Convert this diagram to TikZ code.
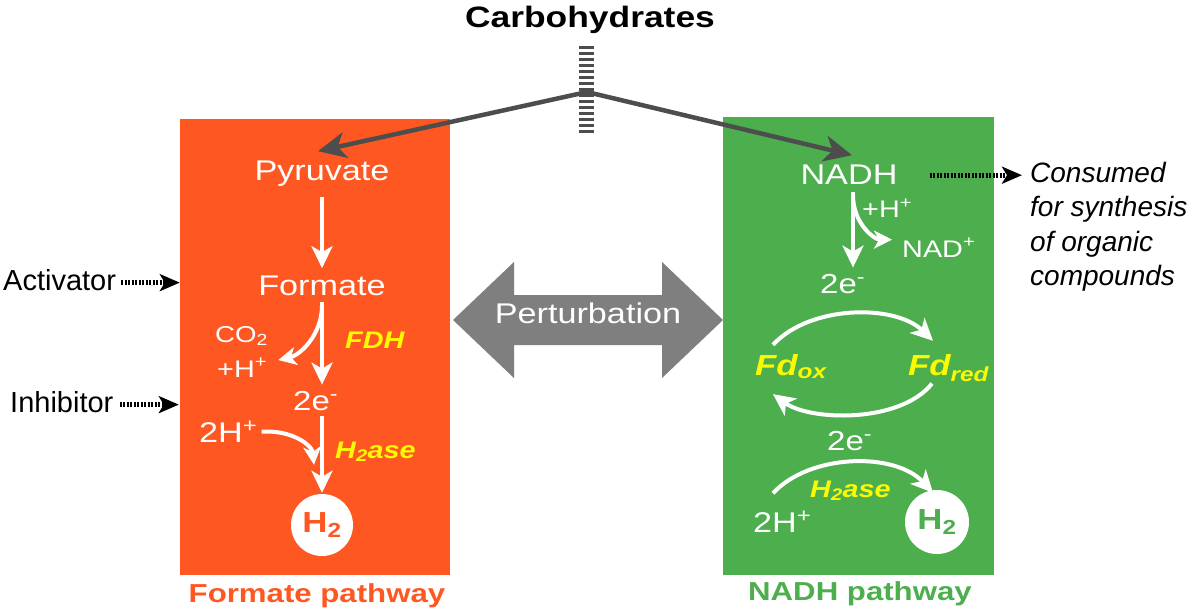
\documentclass[tikz,border=0pt]{standalone}
\usepackage{fontspec}
\setmainfont{Liberation Sans}
\newfontfamily\wfont[FakeStretch=1.2]{Liberation Sans}
\usetikzlibrary{arrows.meta,calc}
\definecolor{formorange}{RGB}{254,87,34}
\definecolor{nadhgreen}{RGB}{77,174,77}
\definecolor{enzyellow}{RGB}{250,250,0}
\definecolor{darkarrow}{RGB}{77,77,77}
\definecolor{pertgray}{RGB}{127,127,127}

\begin{document}
\begin{tikzpicture}[x=1pt, y=-1pt,
  wlab/.style={text=white, inner sep=0pt, font=\wfont\fontsize{28.5}{32}\selectfont},
  slab/.style={text=white, inner sep=0pt, font=\wfont\fontsize{24}{28}\selectfont},
  elab/.style={text=white, inner sep=0pt, font=\wfont\fontsize{27.5}{32}\selectfont},
  blab/.style={text=black, inner sep=0pt, font=\fontsize{29}{34}\selectfont},
  ylab/.style={text=enzyellow, inner sep=0pt, font=\wfont\bfseries\itshape\fontsize{24}{28}\selectfont},
  fdlab/.style={text=enzyellow, inner sep=0pt, font=\wfont\bfseries\itshape\fontsize{29}{34}\selectfont},
  hcirc/.style={circle, fill=white, minimum size=62pt, inner sep=0pt, font=\wfont\bfseries\fontsize{29}{32}\selectfont},
  warr/.style={white, line width=4pt, -{Stealth[length=22pt,width=21pt,inset=6pt]}},
  barr/.style={white, line width=4pt, -{Stealth[length=18pt,width=18pt,inset=5pt]}},
  garr/.style={darkarrow, line width=4.5pt, -{Stealth[length=28pt,width=26pt,inset=8pt]}},
  dotarr/.style={black, line width=5pt, dash pattern=on 2pt off 1.5pt, -{Stealth[length=20pt,width=17pt,inset=5pt]}},
  plab/.style={inner sep=0pt, font=\wfont\bfseries\fontsize{26}{30}\selectfont},
]
\useasboundingbox (0,0) rectangle (1200,615);

% pathway boxes
\node[fill=formorange, minimum width=270pt, minimum height=456pt, inner sep=0pt] (fbox) at (315,347) {};
\node[fill=nadhgreen, minimum width=271pt, minimum height=458pt, inner sep=0pt] (gbox) at (858.5,346) {};
\node[plab, text=formorange, anchor=base] (flab) at (317,602) {Formate pathway};
\node[plab, text=nadhgreen, anchor=base] (nlab) at (860,600) {NADH pathway};

% carbohydrates split
\node[inner sep=0pt, font=\wfont\bfseries\fontsize{29.5}{34}\selectfont, anchor=base] (carb) at (590,28) {Carbohydrates};
\foreach \y in {48,54,...,132} {
  \draw[darkarrow, line width=3pt] (579,\y) -- (594,\y);
}
\coordinate (apex) at (587,92);

% formate pathway
\node[wlab, anchor=base] (pyr) at (322,180) {Pyruvate};
\node[wlab, anchor=base] (form) at (322,295) {Formate};
\node[slab, font=\wfont\fontsize{23}{28}\selectfont, anchor=base west] (co2) at (215,342) {CO\textsubscript{2}};
\node[slab, anchor=base west] (hp1) at (217,377) {+H\textsuperscript{+}};
\node[ylab, anchor=base west] (fdh) at (345,348) {FDH};
\node[elab, anchor=base west] (e1) at (293,410) {2e\textsuperscript{-}};
\node[wlab, anchor=base west] (hh1) at (199,442) {2H\textsuperscript{+}};
\node[ylab, anchor=base west] (ase1) at (335,458) {H\textsubscript{2}ase};
\node[hcirc, text=formorange] (h2o) at (322,525) {H\textsubscript{2}};

\draw[garr] (apex) -- ($(pyr.north)+(-4,-9)$);
\draw[warr, shorten <=11pt, shorten >=7pt] (pyr) -- (form);
\draw[warr] ($(form.south)+(0,7)$) -- ($(form.south |- e1.north)+(0,-6)$);
\draw[barr] ($(form.south)+(0,10)$) .. controls +(0,29) and +(22,-5) .. ($(hp1.north east)+(11,2)$);
\draw[warr, shorten >=1pt] ($(e1.south -| h2o)+(0,6)$) -- (h2o.north);
\draw[barr] ($(hh1.east)+(4,0)$) .. controls +(30,-2) and +(-2,-20) .. ($(h2o.north)+(-8,-29)$);

% effectors
\node[blab, anchor=base west] (act) at (3,290) {Activator};
\node[blab, anchor=base west] (inh) at (10,412) {Inhibitor};
\draw[dotarr] ($(act.east)+(5,3)$) -- ($(act.east -| fbox.west)+(0,3)$);
\draw[dotarr] ($(inh.east)+(6,3)$) -- ($(inh.east -| fbox.west)+(-1,3)$);

% perturbation
\fill[pertgray] (453,320) -- (514,262) -- (514,295) -- (662,295) -- (662,262) -- (723,320)
  -- (662,378) -- (662,345) -- (514,345) -- (514,378) -- cycle;
\node[wlab, anchor=base] (pert) at (588,323) {Perturbation};

% NADH pathway
\node[wlab, anchor=base] (nadh) at (849,185) {NADH};
\node[slab, anchor=base west] (hp2) at (862,218) {+H\textsuperscript{+}};
\node[slab, anchor=base west] (nad) at (902,257) {NAD\textsuperscript{+}};
\node[elab, anchor=base west] (e2) at (820,293) {2e\textsuperscript{-}};
\node[fdlab, anchor=base west] (fdox) at (755,375) {Fd\textsubscript{ox}};
\node[fdlab, anchor=base west] (fdred) at (908,375) {Fd\textsubscript{red}};
\node[elab, anchor=base west] (e3) at (827,450) {2e\textsuperscript{-}};
\node[ylab, anchor=base west] (ase2) at (810,497) {H\textsubscript{2}ase};
\node[wlab, anchor=base west] (hh2) at (753,532) {2H\textsuperscript{+}};
\node[hcirc, minimum size=64pt, text=nadhgreen] (h2g) at (937,522) {H\textsubscript{2}};
\node[inner sep=0pt, align=left, anchor=north west, font=\itshape\fontsize{28}{34.5}\selectfont] (cons) at (1030,162)
  {Consumed\\for synthesis\\of organic\\compounds};

\draw[garr] (apex) -- ($(nadh.north)+(3,-10)$);
\draw[warr] ($(nadh.south)+(4,7)$) -- ($(nadh.south |- e2.north)+(4,-6)$);
\draw[barr] ($(nadh.south)+(4,10)$) .. controls +(0,28) and +(-18,0) .. ($(nad.west)+(-10,-8)$);
\draw[dotarr] ($(nadh.east)+(32,0)$) -- ($(nadh.east -| cons.west)+(-8,0)$);
\draw[warr] ($(fdox.north west)+(18,-9)$) .. controls +(37,-40) and +(-38,-37) .. ($(fdred.north west)+(25,-13)$);
\draw[warr] ($(fdred.south west)+(24,2)$) .. controls +(-32,40) and +(37,27) .. ($(fdox.south west)+(18,15)$);
\draw[warr] ($(hh2.north west)+(20,-18)$) .. controls +(37,-40) and +(-38,-41) .. ($(h2g.north)+(-4,3)$);
\end{tikzpicture}
\end{document}
